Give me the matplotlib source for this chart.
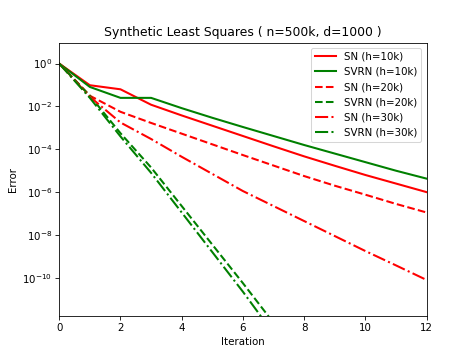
import numpy as np
import matplotlib
matplotlib.use('Agg')
from matplotlib import pyplot as plt

iters = np.arange(0, 13)

# log10 of the error
sn_10k = [0, -1.01, -1.2, -1.92, -2.42, -2.9, -3.38, -3.86, -4.33, -4.77, -5.2, -5.6, -6.0]
svrn_10k = [0, -1.09, -1.6, -1.6, -2.08, -2.53, -2.96, -3.38, -3.8, -4.2, -4.6, -5.0, -5.37]
sn_20k = [0, -1.5, -2.25, -2.77, -3.27, -3.77, -4.27, -4.76, -5.25, -5.7, -6.12, -6.55, -6.95]
svrn_20k = [0, -1.5, -3.25, -4.85, -6.65, -8.45, -10.25, -12.1, -13.9]
sn_30k = [0, -1.55, -2.75, -3.52, -4.35, -5.15, -5.95, -6.65, -7.35, -8.05, -8.75, -9.42, -10.1]
svrn_30k = [0, -1.6, -3.4, -5.1, -6.95, -8.8, -10.65, -12.6, -14.5]

fig = plt.figure(figsize=(474 / 74, 355 / 74), dpi=74)
lw = 2
plt.semilogy(iters, 10.0**np.array(sn_10k), 'r-', lw=lw, label='SN (h=10k)')
plt.semilogy(iters, 10.0**np.array(svrn_10k), 'g-', lw=lw, label='SVRN (h=10k)')
plt.semilogy(iters, 10.0**np.array(sn_20k), 'r--', lw=lw, label='SN (h=20k)')
plt.semilogy(iters[:len(svrn_20k)], 10.0**np.array(svrn_20k), 'g--', lw=lw, label='SVRN (h=20k)')
plt.semilogy(iters, 10.0**np.array(sn_30k), 'r-.', lw=lw, label='SN (h=30k)')
plt.semilogy(iters[:len(svrn_30k)], 10.0**np.array(svrn_30k), 'g-.', lw=lw, label='SVRN (h=30k)')

plt.xlim(0, 12)
plt.ylim(10**-11.78, 10**0.98)
plt.title('Synthetic Least Squares ( n=500k, d=1000 )')
plt.xlabel('Iteration')
plt.ylabel('Error')
plt.legend(loc='upper right')
plt.savefig('out.png', dpi=74)
